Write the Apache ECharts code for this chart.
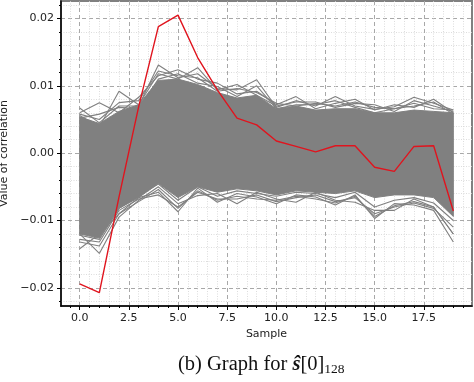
<!DOCTYPE html>
<html>
<head>
<meta charset="utf-8">
<script src="https://cdn.jsdelivr.net/npm/echarts@6/dist/echarts.min.js"></script>
<style>html,body{margin:0;padding:0;background:#fff;}#c{width:474px;height:382px;}</style>
</head>
<body>
<div id="c"></div>
<script>
// ---- data ----
const samples = [0,1,2,3,4,5,6,7,8,9,10,11,12,13,14,15,16,17,18,19];
const redTrace = [-0.0194,-0.0207,-0.0065,0.0069,0.0188,0.0205,0.0142,0.0094,0.0052,0.0042,0.0018,0.0010,0.0002,0.0011,0.0011,-0.0021,-0.0027,0.0010,0.0011,-0.0086];
// dense band of gray traces (solid part)
const bandTop = [0.0054,0.0044,0.0062,0.0072,0.0108,0.0110,0.0102,0.0090,0.0082,0.0086,0.0066,0.0070,0.0064,0.0066,0.0066,0.0060,0.0060,0.0064,0.0062,0.0060];
const bandBottom = [-0.0120,-0.0126,-0.0082,-0.0066,-0.0045,-0.0066,-0.0050,-0.0058,-0.0053,-0.0056,-0.0062,-0.0056,-0.0058,-0.0060,-0.0056,-0.0066,-0.0062,-0.0062,-0.0066,-0.0094];
// individual gray traces visible at the band edges
const upper1 = [0.0067,0.0045,0.0070,0.0070,0.0131,0.0112,0.0118,0.0096,0.0094,0.0109,0.0068,0.0078,0.0070,0.0084,0.0070,0.0065,0.0069,0.0083,0.0074,0.0064];
const upper2 = [0.0060,0.0075,0.0060,0.0083,0.0115,0.0124,0.0110,0.0104,0.0088,0.0092,0.0072,0.0084,0.0066,0.0074,0.0080,0.0064,0.0072,0.0068,0.0080,0.0060];
const upper3 = [0.0056,0.0039,0.0092,0.0072,0.0118,0.0110,0.0127,0.0094,0.0102,0.0086,0.0070,0.0076,0.0076,0.0068,0.0074,0.0072,0.0062,0.0078,0.0070,0.0062];
const upper4 = [0.0052,0.0058,0.0068,0.0066,0.0110,0.0118,0.0104,0.0099,0.0084,0.0100,0.0066,0.0072,0.0072,0.0078,0.0068,0.0060,0.0066,0.0070,0.0076,0.0058];
const upper5 = [0.0058,0.0050,0.0075,0.0078,0.0122,0.0115,0.0112,0.0092,0.0096,0.0090,0.0074,0.0070,0.0074,0.0070,0.0076,0.0068,0.0066,0.0074,0.0066,0.0064];
const lower1 = [-0.0142,-0.0120,-0.0090,-0.0066,-0.0058,-0.0087,-0.0052,-0.0073,-0.0060,-0.0065,-0.0075,-0.0062,-0.0065,-0.0077,-0.0062,-0.0097,-0.0075,-0.0077,-0.0085,-0.0132];
const lower2 = [-0.0120,-0.0149,-0.0095,-0.0070,-0.0050,-0.0075,-0.0063,-0.0060,-0.0075,-0.0058,-0.0068,-0.0073,-0.0058,-0.0070,-0.0073,-0.0085,-0.0085,-0.0068,-0.0080,-0.0120];
const lower3 = [-0.0128,-0.0132,-0.0085,-0.0068,-0.0062,-0.0080,-0.0058,-0.0068,-0.0068,-0.0062,-0.0072,-0.0066,-0.0062,-0.0072,-0.0066,-0.0090,-0.0080,-0.0074,-0.0082,-0.0110];
const lower4 = [-0.0122,-0.0128,-0.0082,-0.0064,-0.0046,-0.0070,-0.0050,-0.0064,-0.0056,-0.0060,-0.0064,-0.0058,-0.0060,-0.0066,-0.0058,-0.0080,-0.0070,-0.0066,-0.0074,-0.0100];
const lower5 = [-0.0132,-0.0138,-0.0090,-0.0072,-0.0054,-0.0082,-0.0056,-0.0070,-0.0064,-0.0068,-0.0070,-0.0064,-0.0068,-0.0074,-0.0064,-0.0094,-0.0078,-0.0072,-0.0080,-0.0120];
const grayTraces = [upper1, upper2, upper3, upper4, upper5, lower1, lower2, lower3, lower4, lower5];
// tick labels
const xTicks = [0, 2.5, 5, 7.5, 10, 12.5, 15, 17.5];
const yTicks = [-0.02, -0.01, 0, 0.01, 0.02];
const xMinorTicks = [];
for (let k = -1; k <= 39; k++) if (k % 5 !== 0) xMinorTicks.push(k * 0.5);
const yMinorTicks = [];
for (let k = -11; k <= 11; k++) if (k % 5 !== 0) yMinorTicks.push(Math.round(k * 2) / 1000);

const X_MIN = -0.95, X_MAX = 19.95, Y_MIN = -0.0227, Y_MAX = 0.0226;
const fontSans = 'DejaVu Sans';
const minus = s => s.replace('-', '\u2212');

const chart = echarts.init(document.getElementById('c'), null, {renderer: 'canvas'});
const series = [];
series.push({
  type: 'custom',
  coordinateSystem: 'cartesian2d',
  xAxisIndex: 0, yAxisIndex: 0,
  data: [[0, 0]],
  silent: true,
  z: 2,
  renderItem: function (params, api) {
    const pts = [];
    for (let i = 0; i < samples.length; i++) pts.push(api.coord([samples[i], bandTop[i]]));
    for (let i = samples.length - 1; i >= 0; i--) pts.push(api.coord([samples[i], bandBottom[i]]));
    return {type: 'polygon', shape: {points: pts}, style: {fill: '#808080', stroke: '#808080', lineWidth: 1}};
  }
});
grayTraces.forEach(function (tr) {
  series.push({
    type: 'line', xAxisIndex: 0, yAxisIndex: 0,
    data: samples.map((s, i) => [s, tr[i]]),
    symbol: 'none', silent: true, z: 3,
    lineStyle: {color: '#808080', width: 1.1}
  });
});
series.push({
  type: 'line', xAxisIndex: 0, yAxisIndex: 0,
  data: samples.map((s, i) => [s, redTrace[i]]),
  symbol: 'none', silent: true, z: 5,
  lineStyle: {color: '#e0141e', width: 1.4}
});

chart.setOption({
  animation: false,
  backgroundColor: '#ffffff',
  title: {
    text: '(b) Graph for {s|\u015D}[0]{sub|128}',
    left: 173, top: 348,
    textStyle: {
      fontFamily: 'Liberation Serif', fontSize: 20.5, fontWeight: 'normal', color: '#111',
      rich: {
        s: {fontFamily: 'Liberation Serif', fontSize: 20.5, fontWeight: 'bold', fontStyle: 'italic', color: '#111'},
        sub: {fontFamily: 'Liberation Serif', fontSize: 13.5, color: '#111', padding: [9, 0, 0, 0]}
      }
    }
  },
  grid: {left: 61, right: 2, top: 1, bottom: 76, show: true, borderColor: '#808080', borderWidth: 2,
         backgroundColor: 'transparent', containLabel: false, outerBoundsMode: 'none'},
  xAxis: [{
    type: 'value', min: X_MIN, max: X_MAX, position: 'bottom',
    name: 'Sample', nameLocation: 'middle', nameGap: 23,
    nameTextStyle: {fontFamily: fontSans, fontSize: 11, color: '#222'},
    axisLine: {show: true, onZero: false, lineStyle: {color: '#000', width: 1.5}},
    axisTick: {show: true, customValues: xTicks, length: 4, inside: false, lineStyle: {color: '#000', width: 1}},
    axisLabel: {customValues: xTicks, fontFamily: fontSans, fontSize: 11, color: '#222', margin: 7, formatter: v => v.toFixed(1)},
    splitLine: {show: true, lineStyle: {color: '#a8a8a8', width: 1, type: [4, 3]}},
    minorTick: {show: false}, minorSplitLine: {show: false}
  }, {
    type: 'value', min: X_MIN, max: X_MAX, position: 'bottom',
    axisLine: {show: false, onZero: false},
    axisTick: {show: true, customValues: xMinorTicks, length: 2, lineStyle: {color: '#000', width: 1}},
    axisLabel: {show: false, customValues: xMinorTicks},
    splitLine: {show: true, lineStyle: {color: '#d4d4d4', width: 0.8, type: [1, 1.5]}}
  }],
  yAxis: [{
    type: 'value', min: Y_MIN, max: Y_MAX, position: 'left',
    name: 'Value of correlation', nameLocation: 'middle', nameGap: 43,
    nameTextStyle: {fontFamily: fontSans, fontSize: 11, color: '#222'},
    axisLine: {show: true, onZero: false, lineStyle: {color: '#000', width: 1.5}},
    axisTick: {show: true, customValues: yTicks, length: 4, lineStyle: {color: '#000', width: 1}},
    axisLabel: {customValues: yTicks, fontFamily: fontSans, fontSize: 11, color: '#222', margin: 7, formatter: v => minus(v.toFixed(2))},
    splitLine: {show: true, lineStyle: {color: '#a8a8a8', width: 1, type: [4, 3]}},
    minorTick: {show: false}, minorSplitLine: {show: false}
  }, {
    type: 'value', min: Y_MIN, max: Y_MAX, position: 'left',
    axisLine: {show: false, onZero: false},
    axisTick: {show: true, customValues: yMinorTicks, length: 2, lineStyle: {color: '#000', width: 1}},
    axisLabel: {show: false, customValues: yMinorTicks},
    splitLine: {show: true, lineStyle: {color: '#d4d4d4', width: 0.8, type: [1, 1.5]}}
  }],
  series: series
});
</script>
</body>
</html>
